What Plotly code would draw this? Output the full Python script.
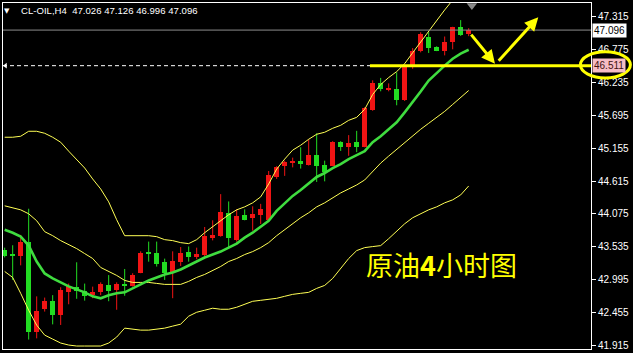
import plotly.graph_objects as go

# ---------------- data ----------------
opens = [43.49, 43.42, 43.39, 43.62, 42.14, 42.51, 42.64, 42.41, 42.79, 42.88,
         42.81, 42.74, 42.79, 42.90, 42.82, 42.93, 42.89, 43.11, 43.44, 43.44,
         43.28, 43.11, 43.28, 43.45, 43.36, 43.40, 43.68, 43.71, 44.09, 43.64,
         44.06, 44.00, 44.06, 43.98, 44.68, 44.86, 44.92, 44.94, 44.88, 45.04,
         44.88, 44.87, 45.25, 45.17, 45.25, 45.18, 45.79, 46.22, 46.12, 46.13,
         45.94, 46.53, 46.75, 46.98, 46.81, 46.75, 46.90, 47.14, 47.026]
highs = [43.52, 43.56, 43.73, 44.16, 42.72, 42.70, 42.74, 42.87, 42.93, 43.28,
         42.93, 42.88, 42.95, 43.07, 42.95, 43.17, 43.10, 43.46, 43.62, 43.62,
         43.34, 43.46, 43.53, 43.54, 43.52, 43.86, 43.97, 44.40, 44.28, 44.15,
         44.15, 44.20, 44.24, 44.78, 44.86, 44.95, 45.00, 45.17, 45.30, 45.40,
         44.95, 45.27, 45.27, 45.37, 45.44, 45.83, 46.27, 46.31, 46.22, 46.40,
         46.53, 46.80, 47.06, 47.06, 46.83, 46.99, 47.15, 47.26, 47.126]
lows = [43.36, 42.99, 43.23, 42.01, 42.03, 42.47, 42.26, 42.25, 42.59, 42.68,
        42.65, 42.69, 42.74, 42.64, 42.50, 42.73, 42.88, 43.10, 43.29, 43.21,
        42.99, 42.69, 43.22, 43.29, 43.33, 43.37, 43.64, 43.70, 43.53, 43.62,
        43.97, 43.80, 43.91, 43.97, 44.65, 44.70, 44.84, 44.82, 44.87, 44.60,
        44.61, 44.86, 45.11, 45.03, 45.09, 45.17, 45.77, 46.09, 46.09, 45.86,
        45.93, 46.46, 46.73, 46.72, 46.75, 46.68, 46.78, 47.00, 46.996]
closes = [43.39, 43.38, 43.62, 42.14, 42.48, 42.64, 42.42, 42.82, 42.89, 42.81,
          42.73, 42.79, 42.92, 42.81, 42.92, 42.89, 43.07, 43.44, 43.42, 43.25,
          43.11, 43.30, 43.44, 43.37, 43.42, 43.71, 43.73, 44.11, 43.68, 44.04,
          43.98, 44.08, 44.15, 44.71, 44.85, 44.93, 44.95, 44.90, 45.04, 44.86,
          44.76, 45.26, 45.18, 45.24, 45.18, 45.82, 46.22, 46.12, 46.15, 45.94,
          46.51, 46.76, 47.03, 46.80, 46.76, 46.90, 47.14, 47.02, 47.096]

bb_upper = [45.335, 45.335, 45.351, 45.433, 45.433, 45.400, 45.335, 45.253, 45.106, 44.959,
            44.829, 44.649, 44.485, 44.273, 43.979, 43.717, 43.717, 43.717, 43.717, 43.701,
            43.652, 43.636, 43.603, 43.587, 43.652, 43.766, 43.865, 43.963, 44.061, 44.142,
            44.191, 44.257, 44.355, 44.567, 44.812, 44.976, 45.123, 45.204, 45.302, 45.384,
            45.417, 45.482, 45.531, 45.613, 45.662, 45.793, 46.038, 46.201, 46.316, 46.414,
            46.544, 46.724, 46.904, 47.084, 47.263, 47.427, 47.590, 47.655, 47.721]
bb_middle = [44.208, 44.175, 44.142, 44.077, 43.963, 43.783, 43.717, 43.636, 43.570, 43.505,
             43.423, 43.342, 43.195, 43.129, 43.064, 42.982, 42.949, 42.949, 42.949, 42.933,
             42.917, 42.917, 42.917, 42.966, 43.031, 43.080, 43.146, 43.211, 43.293, 43.342,
             43.407, 43.456, 43.521, 43.603, 43.717, 43.816, 43.914, 44.012, 44.093, 44.191,
             44.257, 44.338, 44.420, 44.485, 44.551, 44.633, 44.780, 44.910, 45.025, 45.139,
             45.253, 45.351, 45.466, 45.564, 45.662, 45.760, 45.874, 45.989, 46.103]
bb_lower = [43.129, 43.031, 42.770, 42.492, 42.247, 42.083, 42.018, 41.953, 41.920, 41.904,
            41.904, 41.904, 41.904, 41.953, 42.051, 42.198, 42.182, 42.165, 42.165, 42.182,
            42.198, 42.231, 42.263, 42.394, 42.459, 42.492, 42.525, 42.508, 42.508, 42.541,
            42.590, 42.639, 42.655, 42.672, 42.688, 42.721, 42.753, 42.770, 42.786, 42.851,
            42.900, 43.015, 43.178, 43.342, 43.472, 43.521, 43.538, 43.554, 43.668, 43.799,
            43.913, 44.012, 44.077, 44.142, 44.191, 44.257, 44.306, 44.387, 44.534]
ma_green = [43.816, 43.766, 43.701, 43.554, 43.293, 43.097, 43.015, 42.949, 42.884, 42.835,
            42.786, 42.721, 42.688, 42.737, 42.770, 42.786, 42.851, 42.917, 42.982, 43.031,
            43.080, 43.113, 43.162, 43.227, 43.293, 43.358, 43.407, 43.456, 43.521, 43.587,
            43.685, 43.766, 43.865, 43.963, 44.126, 44.257, 44.371, 44.469, 44.583, 44.682,
            44.747, 44.829, 44.894, 44.976, 45.041, 45.106, 45.253, 45.351, 45.466, 45.580,
            45.744, 45.907, 46.087, 46.267, 46.397, 46.512, 46.626, 46.708, 46.773]

tick_values = [41.915, 42.455, 42.995, 43.535, 44.075, 44.615, 45.155, 45.695, 46.235, 46.775, 47.315]
tick_labels = ["41.915", "42.455", "42.995", "43.535", "44.075", "44.615", "45.155", "45.695", "46.235", "46.775", "47.315"]

symbol = "CL-OIL,H4"
ohlc_last = ["47.026", "47.126", "46.996", "47.096"]
last_price = 47.096
level_price = 46.511
chart_label = "原油<b>4</b>小时图"

# ---------------- styles ----------------
UP = "#f01414"
DOWN = "#22dd22"
BAND = "#ffff55"
MA = "#3fdc3f"
YEL = "#ffff00"

n = len(opens)
xs = list(range(n))

fig = go.Figure()

# wicks
for col, cond in ((UP, True), (DOWN, False)):
    wx, wy = [], []
    for i in xs:
        if (closes[i] >= opens[i]) == cond:
            wx += [i, i, None]
            wy += [lows[i], highs[i], None]
    fig.add_trace(go.Scatter(x=wx, y=wy, mode="lines", line=dict(color=col, width=1),
                             hoverinfo="skip"))

# bodies
colors = [UP if closes[i] >= opens[i] else DOWN for i in xs]
bases = [min(opens[i], closes[i]) for i in xs]
heights = [max(abs(closes[i] - opens[i]), 0.02) for i in xs]
fig.add_trace(go.Bar(x=xs, y=heights, base=bases, width=0.62, marker=dict(color=colors, line=dict(width=0)),
                     hoverinfo="skip"))

# bands and MA
for arr in (bb_upper, bb_middle, bb_lower):
    fig.add_trace(go.Scatter(x=xs, y=arr, mode="lines", line=dict(color=BAND, width=1), hoverinfo="skip"))
fig.add_trace(go.Scatter(x=xs, y=ma_green, mode="lines", line=dict(color=MA, width=2.6), hoverinfo="skip"))

XMIN, XMAX = -0.21, 73.29
# current price line
fig.add_trace(go.Scatter(x=[XMIN, XMAX], y=[last_price, last_price], mode="lines",
                         line=dict(color="#8c8c8c", width=1), hoverinfo="skip"))
# dashed level line
fig.add_trace(go.Scatter(x=[XMIN, XMAX], y=[level_price, level_price], mode="lines",
                         line=dict(color="#ffffff", width=1, dash="4px,3px"), hoverinfo="skip"))
# yellow support line
fig.add_trace(go.Scatter(x=[45.66, XMAX], y=[level_price, level_price], mode="lines",
                         line=dict(color=YEL, width=3), hoverinfo="skip"))
# small markers
fig.add_trace(go.Scatter(x=[0.1], y=[level_price], mode="markers",
                         marker=dict(symbol="triangle-left", size=5, color="#ffffff"), hoverinfo="skip"))
fig.add_trace(go.Scatter(x=[58.4], y=[47.50], mode="markers", cliponaxis=False,
                         marker=dict(symbol="triangle-down", size=9, color="#8a8a8a"), hoverinfo="skip"))

annotations = [
    dict(xref="paper", yref="paper", x=0.006, y=0.977, xanchor="center", yanchor="middle",
         text="▼", showarrow=False, font=dict(color="white", size=7, family="DejaVu Sans")),
    dict(xref="paper", yref="paper", x=0.027, y=0.977, xanchor="left", yanchor="middle",
         text=symbol + "\u00a0\u00a0" + " ".join(ohlc_last), showarrow=False,
         font=dict(color="white", size=9.6, family="Liberation Sans")),
    dict(xref="paper", yref="y", x=1.0025, y=last_price, xanchor="left", yanchor="middle",
         text=f"{last_price:.3f}", showarrow=False, bgcolor="white", borderpad=1,
         font=dict(color="black", size=10, family="Liberation Sans")),
    dict(xref="paper", yref="y", x=1.0025, y=level_price, xanchor="left", yanchor="middle",
         text=f"{level_price:.3f}", showarrow=False, bgcolor="#f6bcc4", borderpad=1,
         font=dict(color="#401010", size=10, family="Liberation Sans")),
    dict(xref="x", yref="y", x=54.54, y=43.244, xanchor="center", yanchor="middle",
         text=chart_label, showarrow=False,
         font=dict(color=YEL, size=27, family="Noto Sans CJK SC")),
    # arrows
    dict(xref="x", yref="y", axref="x", ayref="y", x=61.29, y=46.544, ax=58.16, ay=47.046,
         text="", showarrow=True, arrowhead=2, arrowsize=0.9, arrowwidth=3, arrowcolor=YEL),
    dict(xref="x", yref="y", axref="x", ayref="y", x=66.70, y=47.307, ax=61.58, ay=46.566,
         text="", showarrow=True, arrowhead=2, arrowsize=0.9, arrowwidth=3, arrowcolor=YEL),
]

shapes = [
    dict(type="circle", xref="paper", yref="y", x0=0.982, x1=1.067, y0=46.31, y1=46.74,
         line=dict(color=YEL, width=3), layer="above"),
]

fig.update_layout(
    width=633, height=353,
    margin=dict(l=3, r=42, t=3, b=2),
    paper_bgcolor="black", plot_bgcolor="black",
    showlegend=False, bargap=0,
    annotations=annotations, shapes=shapes,
    xaxis=dict(range=[XMIN, XMAX], showgrid=False, zeroline=False, showticklabels=False,
               showline=True, mirror=True, linecolor="white", linewidth=1, ticks=""),
    yaxis=dict(range=[41.855, 47.541], side="right", showgrid=False, zeroline=False,
               tickvals=tick_values, ticktext=tick_labels, ticks="outside", ticklen=4,
               tickcolor="white", tickfont=dict(color="white", size=10, family="Liberation Sans"),
               showline=True, mirror=True, linecolor="white", linewidth=1),
)

fig.write_html("out.html", config={"displayModeBar": False})
